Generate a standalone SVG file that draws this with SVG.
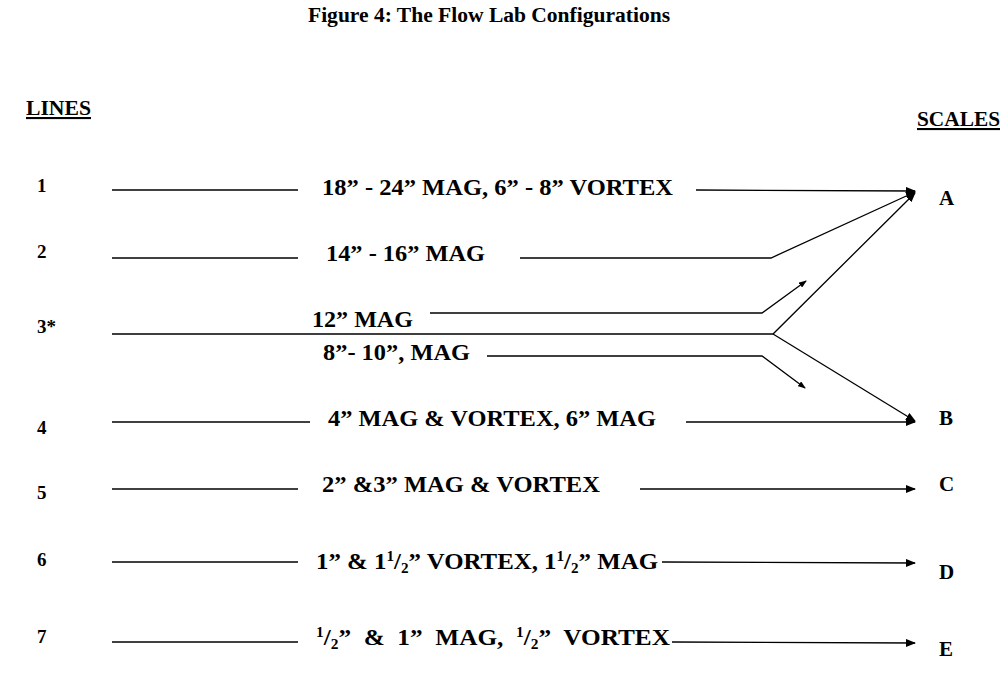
<svg xmlns="http://www.w3.org/2000/svg" width="1007" height="679" viewBox="0 0 1007 679">
<defs>
<marker id="ah" markerWidth="10" markerHeight="8" refX="9" refY="4" orient="auto" markerUnits="userSpaceOnUse"><path d="M0,0 L10,4 L0,8 z" fill="#000"/></marker>
<marker id="as" markerWidth="8" markerHeight="6" refX="7" refY="3" orient="auto" markerUnits="userSpaceOnUse"><path d="M0,0 L8,3 L0,6 z" fill="#000"/></marker>
</defs>
<style>
text{font-family:"Liberation Serif","Times New Roman",serif;font-weight:bold;fill:#000}
.l{font-size:23px}
.n{font-size:19px}
.s{font-size:21px}
.h{font-size:21px;text-decoration:underline}
.c line,.c polyline{stroke:#000;stroke-width:1.3;fill:none}
</style>
<rect width="1007" height="679" fill="#fff"/>
<text x="308" y="22" font-size="20" textLength="362" lengthAdjust="spacingAndGlyphs">Figure 4: The Flow Lab Configurations</text>
<g id="headers"><text class="h" x="26" y="115" textLength="65" lengthAdjust="spacingAndGlyphs">LINES</text><text class="h" x="917" y="126" textLength="83" lengthAdjust="spacingAndGlyphs">SCALES</text></g>
<g id="numbers">
<text class="n" x="37" y="192">1</text><text class="n" x="37" y="258">2</text><text class="n" x="37" y="333">3*</text><text class="n" x="37" y="434">4</text><text class="n" x="37" y="499">5</text><text class="n" x="37" y="566">6</text><text class="n" x="37" y="643">7</text>
</g>
<g id="scales">
<text class="s" x="939" y="205">A</text><text class="s" x="939" y="425">B</text><text class="s" x="939" y="491">C</text><text class="s" x="939" y="579">D</text><text class="s" x="939" y="656">E</text>
</g>
<g id="labels">
<text class="l" x="322" y="195" textLength="351" lengthAdjust="spacingAndGlyphs">18” - 24” MAG, 6” - 8” VORTEX</text>
<text class="l" x="326" y="261" textLength="159" lengthAdjust="spacingAndGlyphs">14” - 16” MAG</text>
<text class="l" x="312" y="327" textLength="101" lengthAdjust="spacingAndGlyphs">12” MAG</text>
<text class="l" x="323" y="360" textLength="147" lengthAdjust="spacingAndGlyphs">8”- 10”, MAG</text>
<text class="l" x="328" y="426" textLength="328" lengthAdjust="spacingAndGlyphs">4” MAG &amp; VORTEX, 6” MAG</text>
<text class="l" x="322" y="492" textLength="278" lengthAdjust="spacingAndGlyphs">2” &amp;3” MAG &amp; VORTEX</text>
<text class="l" x="316" y="569" textLength="342" lengthAdjust="spacingAndGlyphs">1” &amp; 1<tspan font-size="14" dy="-8">1</tspan><tspan dy="8">/</tspan><tspan font-size="14" dy="4">2</tspan><tspan dy="-4">” VORTEX, 1</tspan><tspan font-size="14" dy="-8">1</tspan><tspan dy="8">/</tspan><tspan font-size="14" dy="4">2</tspan><tspan dy="-4">” MAG</tspan></text>
<text class="l" x="316" y="645" textLength="354" lengthAdjust="spacingAndGlyphs"><tspan font-size="14" dy="-8">1</tspan><tspan dy="8">/</tspan><tspan font-size="14" dy="4">2</tspan><tspan dy="-4" xml:space="preserve">”  &amp;  1”  MAG,  </tspan><tspan font-size="14" dy="-8">1</tspan><tspan dy="8">/</tspan><tspan font-size="14" dy="4">2</tspan><tspan dy="-4" xml:space="preserve">”  VORTEX</tspan></text>
</g>
<g id="connectors" class="c">
<line x1="112" y1="190" x2="298" y2="190"/><line x1="696" y1="190" x2="915" y2="191" marker-end="url(#ah)"/>
<line x1="112" y1="258" x2="298" y2="258"/><polyline points="520,258 771,258 915,192" marker-end="url(#ah)"/>
<polyline points="430,313 762,313 806,281" marker-end="url(#as)"/>
<polyline points="112,334 773,334 915,193" marker-end="url(#ah)"/>
<polyline points="773,334 915,421" marker-end="url(#ah)"/>
<polyline points="487,356 762,356 805,388" marker-end="url(#as)"/>
<line x1="112" y1="422" x2="310" y2="422"/><line x1="686" y1="422" x2="915" y2="422" marker-end="url(#ah)"/>
<line x1="112" y1="489" x2="298" y2="489"/><line x1="640" y1="489" x2="915" y2="489" marker-end="url(#ah)"/>
<line x1="112" y1="562" x2="298" y2="562"/><line x1="662" y1="562" x2="915" y2="563" marker-end="url(#ah)"/>
<line x1="112" y1="642" x2="298" y2="642"/><line x1="672" y1="642" x2="915" y2="643" marker-end="url(#ah)"/>
</g>
</svg>
